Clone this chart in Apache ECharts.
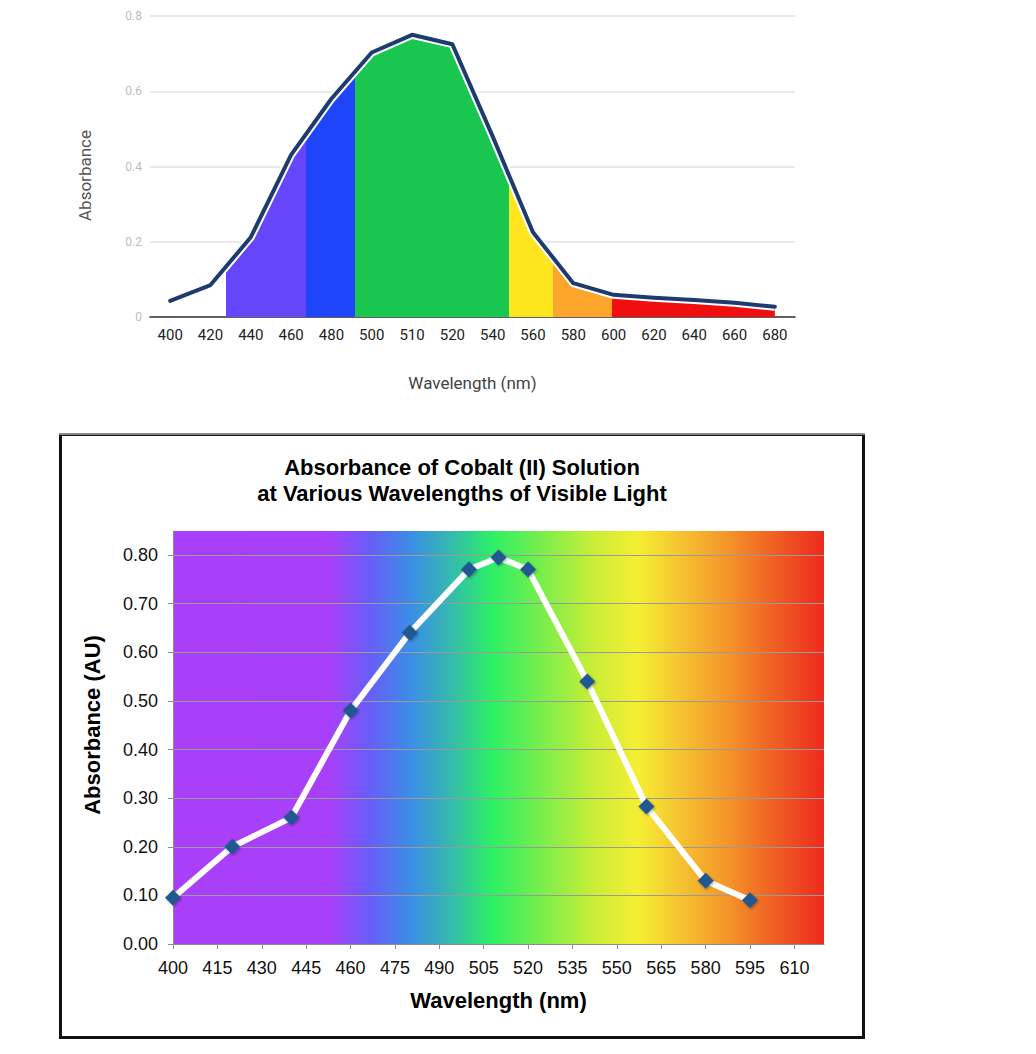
<!DOCTYPE html>
<html>
<head>
<meta charset="utf-8">
<script src="https://cdn.jsdelivr.net/npm/echarts@6/dist/echarts.min.js"></script>
<style>
html,body{margin:0;padding:0;background:#fff;}
#c{width:1036px;height:1054px;}
</style>
</head>
<body>
<div id="c"></div>
<script>
// ---------- DATA: top chart ----------
const topCategories = ['400','420','440','460','480','500','510','520','540','560','580','600','620','640','660','680'];
const topAbsorbance = [0.043,0.085,0.212,0.431,0.58,0.703,0.75,0.725,0.48,0.225,0.09,0.059,0.051,0.045,0.038,0.027];
// colour bands under the top curve, in category-index units (0 = 400, 15 = 680)
const bandStarts = [1.39, 3.38, 4.58, 8.40, 9.50, 10.95];
const bandEnds   = [3.38, 4.58, 8.40, 9.50, 10.95, 15.0];

// ---------- DATA: bottom chart ----------
const wavelengths = [400,420,440,460,480,500,510,520,540,560,580,595];
const absorbance  = [0.095,0.20,0.26,0.48,0.64,0.77,0.795,0.77,0.54,0.283,0.13,0.09];
const xTickValues = [400,415,430,445,460,475,490,505,520,535,550,565,580,595,610];

// ---------- STYLE ----------
const bandColors = ['#6646fb','#1f45fb','#18c650','#fde61e','#fba62b','#f00f0f'];
const spectrumStops = [
  [0.00,'#aa3ff9'],[0.24,'#a840f9'],[0.30,'#6a5cf8'],[0.365,'#3a8ee6'],
  [0.42,'#36b4b4'],[0.49,'#2cf066'],[0.57,'#7cee4a'],[0.645,'#c8ee38'],
  [0.715,'#f6ee32'],[0.78,'#f5c230'],[0.85,'#f4962a'],[0.93,'#f05a22'],[1.00,'#ee2a1e']
];

const chart = echarts.init(document.getElementById('c'), null, {renderer:'svg'});
const spectrum = new echarts.graphic.LinearGradient(0,0,1,0,
  spectrumStops.map(s => ({offset:s[0], color:s[1]})));

const arial = 'Liberation Sans, Arial, sans-serif';
const roboto = 'Roboto, sans-serif';

const option = {
  backgroundColor: '#ffffff',
  animation: false,
  grid: [
    {left:150, top:16, width:645, height:301},
    {left:173, top:531, width:651, height:413, show:true, backgroundColor: spectrum, borderWidth:0},
    {left:173, top:555, width:651, height:389}
  ],
  xAxis: [
    { type:'category', gridIndex:0, data:topCategories, boundaryGap:true,
      axisLine:{show:true, lineStyle:{color:'#333', width:1.5}},
      axisTick:{show:false},
      axisLabel:{interval:0, color:'#222', fontSize:15, fontFamily:roboto, margin:10},
      splitLine:{show:false},
      name:'Wavelength (nm)', nameLocation:'middle', nameGap:57,
      nameTextStyle:{color:'#444', fontSize:17, fontFamily:roboto}
    },
    { type:'value', gridIndex:0, min:-0.5, max:15.5, show:false },
    { type:'value', gridIndex:1, min:400, max:620, show:false },
    { type:'value', gridIndex:2, min:400, max:620,
      axisLine:{show:true, lineStyle:{color:'#8c8c8c', width:1}},
      axisTick:{show:true, length:5, customValues:xTickValues, lineStyle:{color:'#8c8c8c'}},
      axisLabel:{customValues:xTickValues, color:'#111', fontSize:18, fontFamily:arial, margin:15},
      splitLine:{show:false},
      name:'Wavelength (nm)', nameLocation:'middle', nameGap:45,
      nameTextStyle:{color:'#000', fontSize:22, fontWeight:'bold', fontFamily:arial}
    }
  ],
  yAxis: [
    { type:'value', gridIndex:0, min:0, max:0.8, interval:0.2,
      axisLine:{show:false}, axisTick:{show:false},
      axisLabel:{color:'#bdbdbd', fontSize:12, fontFamily:roboto, margin:8},
      splitLine:{show:true, lineStyle:{color:'#e0e0e0', width:1.5}},
      name:'Absorbance', nameLocation:'middle', nameGap:57, nameRotate:90,
      nameTextStyle:{color:'#555', fontSize:17, fontFamily:roboto, padding:[0,18,0,0]}
    },
    { type:'value', gridIndex:1, min:0, max:1,
      axisLine:{show:true, lineStyle:{color:'#8c8c8c', width:1}},
      axisTick:{show:false}, axisLabel:{show:false}, splitLine:{show:false}
    },
    { type:'value', gridIndex:2, min:0, max:0.8, interval:0.1,
      axisLine:{show:true, lineStyle:{color:'#8c8c8c', width:1}},
      axisTick:{show:true, length:5, lineStyle:{color:'#8c8c8c'}},
      axisLabel:{color:'#111', fontSize:18, fontFamily:arial, margin:15,
        formatter: v => v.toFixed(2)},
      splitLine:{show:true, lineStyle:{color:'#9a9a9a', width:1}},
      name:'Absorbance (AU)', nameLocation:'middle', nameGap:70, nameRotate:90,
      nameTextStyle:{color:'#000', fontSize:22, fontWeight:'bold', fontFamily:arial, padding:[0,0,0,49]}
    }
  ],
  visualMap: [{
    type:'piecewise', show:false, seriesIndex:0, dimension:0,
    pieces: bandStarts.map((s,i) => (i === bandStarts.length-1
      ? {gte:s, lte:bandEnds[i], color:bandColors[i]}
      : {gte:s, lt:bandEnds[i], color:bandColors[i]})),
    outOfRange:{color:'rgba(255,255,255,0)'}
  }],
  series: [
    { type:'line', xAxisIndex:1, yAxisIndex:0,
      data: topAbsorbance.map((v,i) => [i, v]),
      showSymbol:false, silent:true, z:2,
      lineStyle:{color:'#ffffff', width:8},
      areaStyle:{opacity:1}
    },
    { type:'line', xAxisIndex:0, yAxisIndex:0,
      data: topAbsorbance,
      showSymbol:false, silent:true, z:3,
      lineStyle:{color:'#1d3b6e', width:4, cap:'round', join:'round'}
    },
    { type:'line', xAxisIndex:3, yAxisIndex:2,
      data: wavelengths.map((w,i) => [w, absorbance[i]]),
      clip:false, z:5,
      symbol:'diamond', symbolSize:16,
      lineStyle:{color:'#ffffff', width:6},
      itemStyle:{color:'#215892', shadowBlur:3, shadowColor:'rgba(0,0,0,0.35)', shadowOffsetX:1, shadowOffsetY:1}
    }
  ],
  graphic: [
    { type:'rect', z:100, silent:true,
      shape:{x:60.5, y:434.5, width:803, height:603},
      style:{fill:'none', stroke:'#111', lineWidth:3} },
    { type:'line', z:101, silent:true,
      shape:{x1:59, y1:434, x2:865, y2:434},
      style:{stroke:'#8a8a8a', lineWidth:2} },
    { type:'text', z:100, silent:true, x:462, y:454,
      style:{text:'Absorbance of Cobalt (II) Solution\nat Various Wavelengths of Visible Light',
        fill:'#000', font:'bold 22px Liberation Sans, Arial, sans-serif',
        textAlign:'center', textVerticalAlign:'top', lineHeight:26} }
  ]
};
chart.setOption(option);
</script>
</body>
</html>
